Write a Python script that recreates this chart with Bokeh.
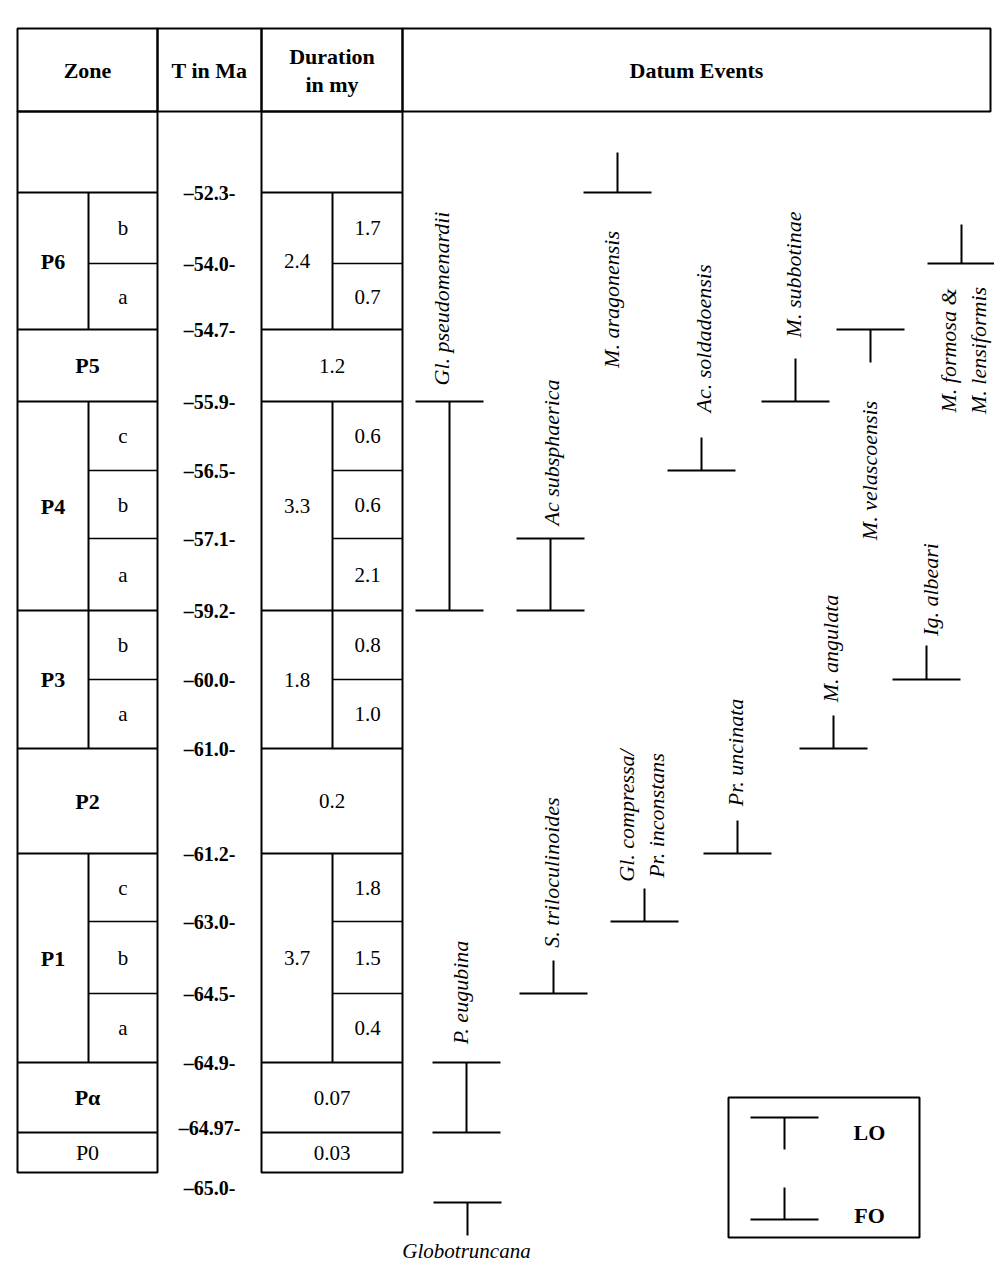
import math
from bokeh.plotting import figure
from bokeh.models import ColumnDataSource, Range1d
from bokeh.core.properties import value
from bokeh.embed import file_html
from bokeh.resources import INLINE

# ---------------- data ----------------
header_labels = ["Zone", "T in Ma", "Duration\nin my", "Datum Events"]

boundary_ages = [52.3, 54.0, 54.7, 55.9, 56.5, 57.1, 59.2, 60.0, 61.0, 61.2, 63.0, 64.5, 64.9, 64.97, 65.0]
boundary_labels = ["52.3", "54.0", "54.7", "55.9", "56.5", "57.1", "59.2", "60.0",
                   "61.0", "61.2", "63.0", "64.5", "64.9", "64.97", "65.0"]

zones = ["P6", "P5", "P4", "P3", "P2", "P1", "Pα", "P0"]
zone_top = [52.3, 54.7, 55.9, 59.2, 61.0, 61.2, 64.9, 64.97]
zone_base = [54.7, 55.9, 59.2, 61.0, 61.2, 64.9, 64.97, 65.0]
zone_duration = ["2.4", "1.2", "3.3", "1.8", "0.2", "3.7", "0.07", "0.03"]

subzone_zone = ["P6", "P6", "P4", "P4", "P4", "P3", "P3", "P1", "P1", "P1"]
subzone_name = ["b", "a", "c", "b", "a", "b", "a", "c", "b", "a"]
subzone_top = [52.3, 54.0, 55.9, 56.5, 57.1, 59.2, 60.0, 61.2, 63.0, 64.5]
subzone_base = [54.0, 54.7, 56.5, 57.1, 59.2, 60.0, 61.0, 63.0, 64.5, 64.9]
subzone_duration = ["1.7", "0.7", "0.6", "0.6", "2.1", "0.8", "1.0", "1.8", "1.5", "0.4"]

event_taxa = ["Gl. pseudomenardii", "Ac subsphaerica", "M. aragonensis", "Ac. soldadoensis",
              "M. subbotinae", "M. velascoensis", "M. formosa &\nM. lensiformis", "Ig. albeari",
              "M. angulata", "Pr. uncinata", "Gl. compressa/\nPr. inconstans",
              "S. triloculinoides", "P. eugubina", "Globotruncana"]
event_fo = [59.2, 59.2, 52.3, 56.5, 55.9, None, 54.0, 60.0, 61.0, 61.2, 63.0, 64.5, 64.97, None]
event_lo = [55.9, 57.1, None, None, None, 54.7, None, None, None, None, None, None, 64.9, 65.0]

legend_labels = ["LO", "FO"]

# ---------------- layout (positions / styles) ----------------
W, H = 994, 1262
ROW_Y = [192, 263, 329, 401, 470, 538, 610, 679, 748, 853, 921, 993, 1062, 1132, 1172]
TLABEL_DY = {64.97: -5, 65.0: 15}
HEAD_TOP, HEAD_BOT, BODY_TOP = 28, 111, 111
COL = dict(z0=17, zs=88, z1=157, d0=261, ds=332, d1=402, e1=990)
EV_X = [449, 550, 617, 701, 795, 870, 961, 926, 833, 737, 644, 553, 466, 467]
EV_STEM = [33, 33, 40, 33, 43, 33, 39, 34, 33, 33, 33, 33, 33, 33]
EV_LBL = [(441, 298), (551, 452), (611, 299), (703, 338), (793, 274), (869, 470), (963, 350),
          (930, 589), (830, 648), (735, 752), (641, 815), (551, 872), (460, 992), (466, 1250)]
EV_DY = [0] * 13 + [30]
LINE_GAP = 30
HALF = 34
SERIF = value("Liberation Serif")
LW = 2


def Y(age):
    return ROW_Y[boundary_ages.index(age)]


p = figure(width=W, height=H, x_range=Range1d(0, W), y_range=Range1d(H, 0),
           output_backend="svg", toolbar_location=None,
           x_axis_location=None, y_axis_location=None, min_border=0)
p.grid.visible = False
p.outline_line_color = None
p.background_fill_color = "white"

# header boxes
hx = [COL["z0"], COL["z1"], COL["d0"], COL["d1"], COL["e1"]]
p.quad(left=hx[:-1], right=hx[1:], top=[HEAD_TOP] * 4, bottom=[HEAD_BOT] * 4,
       fill_color=None, line_color="black", line_width=LW)
hc = [(hx[i] + hx[i + 1]) / 2 for i in range(4)]
for i, lab in enumerate(header_labels):
    lines = lab.split("\n")
    for j, ln in enumerate(lines):
        yy = (HEAD_TOP + HEAD_BOT) / 2 + (j - (len(lines) - 1) / 2) * 28
        p.text(x=[hc[i]], y=[yy], text=[ln], text_font=SERIF, text_font_size="22px",
               text_font_style="bold", text_align="center", text_baseline="middle")

# body boxes (zone + duration column)
p.quad(left=[COL["z0"], COL["d0"]], right=[COL["z1"], COL["d1"]],
       top=[BODY_TOP] * 2, bottom=[Y(65.0)] * 2, fill_color=None,
       line_color="black", line_width=LW)

# zone boundaries
zb = ColumnDataSource(dict(
    x0=[COL["z0"]] * len(zones) + [COL["d0"]] * len(zones),
    x1=[COL["z1"]] * len(zones) + [COL["d1"]] * len(zones),
    y=[Y(a) for a in zone_top] * 2))
p.segment(x0="x0", y0="y", x1="x1", y1="y", source=zb, line_color="black", line_width=LW)

# subzone dividers
with_sub = [z for z in zones if z in subzone_zone]
vx0, vy0, vy1 = [], [], []
for z in with_sub:
    i = zones.index(z)
    for xc in (COL["zs"], COL["ds"]):
        vx0.append(xc); vy0.append(Y(zone_top[i])); vy1.append(Y(zone_base[i]))
p.segment(x0=vx0, y0=vy0, x1=vx0, y1=vy1, line_color="black", line_width=LW)

sx0, sx1, sy = [], [], []
for k in range(len(subzone_name)):
    z = subzone_zone[k]
    if subzone_top[k] != zone_top[zones.index(z)]:
        for a, b in ((COL["zs"], COL["z1"]), (COL["ds"], COL["d1"])):
            sx0.append(a); sx1.append(b); sy.append(Y(subzone_top[k]))
p.segment(x0=sx0, y0=sy, x1=sx1, y1=sy, line_color="black", line_width=1.4)

# zone texts
zx = [(COL["z0"] + COL["zs"]) / 2 if z in with_sub else (COL["z0"] + COL["z1"]) / 2 for z in zones]
zy = [(Y(t) + Y(b)) / 2 for t, b in zip(zone_top, zone_base)]
zstyle = ["normal" if z == "P0" else "bold" for z in zones]
p.text(x="x", y="y", text="t", source=ColumnDataSource(dict(x=zx, y=zy, t=zones, s=zstyle)),
       text_font=SERIF, text_font_size="22px", text_font_style="s",
       text_align="center", text_baseline="middle")
dx = [(COL["d0"] + COL["ds"]) / 2 if z in with_sub else (COL["d0"] + COL["d1"]) / 2 for z in zones]
p.text(x=dx, y=zy, text=zone_duration, text_font=SERIF, text_font_size="21px",
       text_align="center", text_baseline="middle")

sy_mid = [(Y(t) + Y(b)) / 2 for t, b in zip(subzone_top, subzone_base)]
p.text(x=[(COL["zs"] + COL["z1"]) / 2] * len(subzone_name), y=sy_mid, text=subzone_name,
       text_font=SERIF, text_font_size="21px", text_align="center", text_baseline="middle")
p.text(x=[(COL["ds"] + COL["d1"]) / 2] * len(subzone_name), y=sy_mid, text=subzone_duration,
       text_font=SERIF, text_font_size="21px", text_align="center", text_baseline="middle")

# time labels
tl = ["\u2013" + s + "-" for s in boundary_labels]
ty = [Y(a) + TLABEL_DY.get(a, 0) for a in boundary_ages]
p.text(x=[(COL["z1"] + COL["d0"]) / 2] * len(tl), y=ty, text=tl, text_font=SERIF,
       text_font_size="20px", text_font_style="bold", text_align="center", text_baseline="middle")

# datum events
ex0, ex1, ey0, ey1 = [], [], [], []


def cap(xc, yy):
    ex0.append(xc - HALF); ex1.append(xc + HALF); ey0.append(yy); ey1.append(yy)


def stem(xc, ya, yb):
    ex0.append(xc); ex1.append(xc); ey0.append(ya); ey1.append(yb)


for i, name in enumerate(event_taxa):
    xc = EV_X[i]
    fo, lo = event_fo[i], event_lo[i]
    if fo is not None and lo is not None:
        cap(xc, Y(fo)); cap(xc, Y(lo)); stem(xc, Y(lo), Y(fo))
    elif fo is not None:
        yy = Y(fo) + EV_DY[i]
        cap(xc, yy); stem(xc, yy - EV_STEM[i], yy)
    else:
        yy = Y(lo) + EV_DY[i]
        cap(xc, yy); stem(xc, yy, yy + EV_STEM[i])
p.segment(x0=ex0, y0=ey0, x1=ex1, y1=ey1, line_color="black", line_width=LW)

for i, name in enumerate(event_taxa):
    lx, ly = EV_LBL[i]
    lines = name.split("\n")
    horizontal = event_fo[i] is None and event_lo[i] == boundary_ages[-1]
    for j, ln in enumerate(lines):
        off = (j - (len(lines) - 1) / 2) * LINE_GAP
        if horizontal:
            p.text(x=[lx], y=[ly + off], text=[ln], text_font=SERIF, text_font_size="21px",
                   text_font_style="italic", text_align="center", text_baseline="middle")
        else:
            p.text(x=[lx + off], y=[ly], text=[ln], angle=math.pi / 2, text_font=SERIF,
                   text_font_size="22px", text_font_style="italic",
                   text_align="center", text_baseline="middle")

# legend
p.quad(left=[728], right=[919], top=[1097], bottom=[1237], fill_color=None,
       line_color="black", line_width=LW)
lx0, lx1, ly0, ly1 = [], [], [], []
lxc, y_lo, y_fo, lstem = 784, 1117, 1219, 32
lx0 += [lxc - HALF, lxc]; lx1 += [lxc + HALF, lxc]; ly0 += [y_lo, y_lo]; ly1 += [y_lo, y_lo + lstem]
lx0 += [lxc - HALF, lxc]; lx1 += [lxc + HALF, lxc]; ly0 += [y_fo, y_fo - lstem]; ly1 += [y_fo, y_fo]
p.segment(x0=lx0, y0=ly0, x1=lx1, y1=ly1, line_color="black", line_width=LW)
p.text(x=[869, 869], y=[1132, 1215], text=legend_labels, text_font=SERIF, text_font_size="22px",
       text_font_style="bold", text_align="center", text_baseline="middle")

open("out.html", "w").write(file_html(p, INLINE))
